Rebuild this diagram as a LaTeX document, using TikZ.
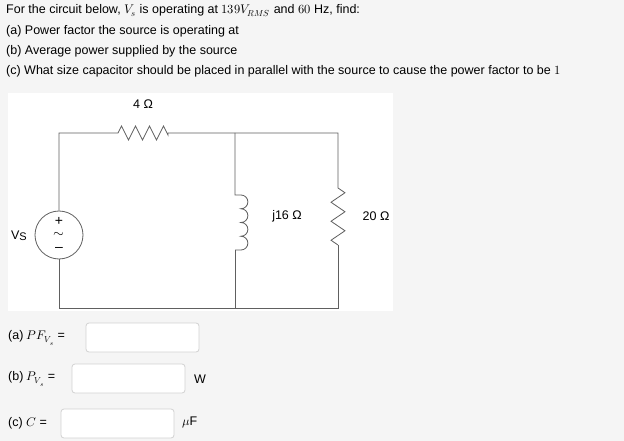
\documentclass[tikz,border=0pt]{standalone}
\usepackage{fontspec}
\setmainfont{Liberation Sans}
\usepackage{unicode-math}
\setmathfont{Latin Modern Math}
\begin{document}
\begin{tikzpicture}[x=1pt,y=-1pt,
  txt/.style={anchor=west,inner sep=0,font=\fontsize{12.5}{14}\selectfont},
  lbl/.style={font=\fontsize{12.5}{14}\selectfont},
  sym/.style={inner sep=0,font=\fontsize{14}{14}\selectfont},
  wire/.style={draw=gray!75!black,line width=0.8pt},
  ansbox/.style={draw=gray!35,fill=white,rounded corners=3pt,line width=0.8pt}]
\useasboundingbox (0,0) rectangle (624,441);
\fill[gray!8] (0,0) rectangle (624,441);
\fill[white] (8,93) rectangle (393,311);
\node[txt] (l1) at (6,11) {For the circuit below, $V_s$ is operating at $139V_{RMS}$ and $60$ Hz, find:};
\node[txt] (l2) at (6,31) {(a) Power factor the source is operating at};
\node[txt] (l3) at (6,51) {(b) Average power supplied by the source};
\node[txt] (l4) at (6,71) {(c) What size capacitor should be placed in parallel with the source to cause the power factor to be $1$};
% circuit
\coordinate (tl) at (59,133); \coordinate (tm) at (235,133); \coordinate (tr) at (338,133);
\coordinate (bl) at (59,308); \coordinate (bm) at (235,308); \coordinate (br) at (338,308);
\coordinate (r1a) at (118,133); \coordinate (r1b) at (168,133);
\node[circle,draw=gray!75!black,line width=0.8pt,minimum size=48pt,inner sep=0] (src) at (59,235) {};
\draw[wire] (src.north) -- (tl) -- (r1a)
  -- ++(3.5,-7) -- ++(7,14) -- ++(7,-14) -- ++(7,14) -- ++(7,-14) -- ++(7,14) -- ++(7,-14) -- ++(4.5,9) -- (r1b);
\coordinate (r2a) at (338,188); \coordinate (r2b) at (338,245);
\draw[wire] (r1b) -- (tr) -- (r2a)
  -- ++(7,4.75) -- ++(-14,9.5) -- ++(14,9.5) -- ++(-14,9.5) -- ++(14,9.5) -- ++(-14,9.5) -- (r2b);
\draw[wire] (r2b) -- (br) -- (bl) -- (src.south);
\coordinate (la) at (235,195); \coordinate (lb) at (235,250);
\draw[wire] (tm) -- (la) -- ++(6,0)
  arc[start angle=-90,end angle=90,radius=6.875] arc[start angle=-90,end angle=90,radius=6.875]
  arc[start angle=-90,end angle=90,radius=6.875] arc[start angle=-90,end angle=90,radius=6.875] -- (lb);
\draw[wire] (lb) -- (bm);
\node[sym] (p) at (59,221) {+};
\node[sym] (t) at (59,235) {$\sim$};
\node[sym] (m) at (59,249) {–};
\node[lbl] (vs) at (19,236) {V\raisebox{-1.5pt}{\fontsize{11}{12}\selectfont S}};
\node[lbl] (r1l) at (143,104) {4 Ω};
\node[lbl] (ll) at (287,216) {j16 Ω};
\node[lbl] (r2l) at (376,216) {20 Ω};
% answers
\node[txt] (qa) at (8,338) {(a) $PF_{V_s}$ =};
\draw[ansbox] (86,323) rectangle (199,352);
\node[txt] (qb) at (8,379) {(b) $P_{V_s}$ =};
\draw[ansbox] (72,364) rectangle (185,393);
\node[txt] (w) at (194,379) {W};
\node[txt] (qc) at (8,423) {(c) $C$ =};
\draw[ansbox] (61,409) rectangle (174,438);
\node[txt] (uf) at (182,423) {$\mu$F};
\end{tikzpicture}
\end{document}
